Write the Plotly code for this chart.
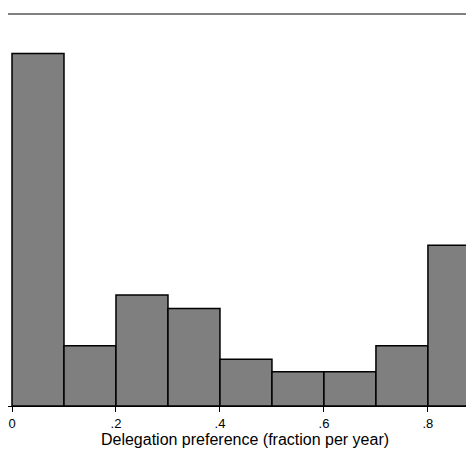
import plotly.graph_objects as go

bin_centers = [0.05, 0.15, 0.25, 0.35, 0.45, 0.55, 0.65, 0.75, 0.85, 0.95]
density = [3.40, 0.58, 1.07, 0.94, 0.45, 0.33, 0.33, 0.58, 1.55, 1.55]
tick_vals = [0, 0.2, 0.4, 0.6, 0.8]
tick_text = ["0", ".2", ".4", ".6", ".8"]

fig = go.Figure(go.Bar(
    x=bin_centers, y=density, width=0.1,
    marker=dict(color="#7f7f7f", line=dict(color="black", width=1.5)),
))

# page body adds ~8px offset, margins compensate
fig.update_layout(
    width=474, height=474,
    margin=dict(l=0, r=0, t=6, b=76),
    plot_bgcolor="white", paper_bgcolor="white",
    showlegend=False,
    font=dict(family="Liberation Sans, Arial", color="black", size=13),
    shapes=[dict(type="line", xref="paper", yref="paper", x0=-0.05, x1=1, y0=1, y1=1,
                 line=dict(color="black", width=1))],
)
fig.update_xaxes(
    range=[-0.0077, 0.904], tickvals=tick_vals, ticktext=tick_text,
    ticks="outside", ticklen=5, tickcolor="black", showline=True, linecolor="black",
    showgrid=False, zeroline=False,
    title=dict(text="Delegation preference (fraction per year)", standoff=4),
)
fig.update_yaxes(range=[0, 3.78], visible=False, showgrid=False)

fig.write_html("out.html")
